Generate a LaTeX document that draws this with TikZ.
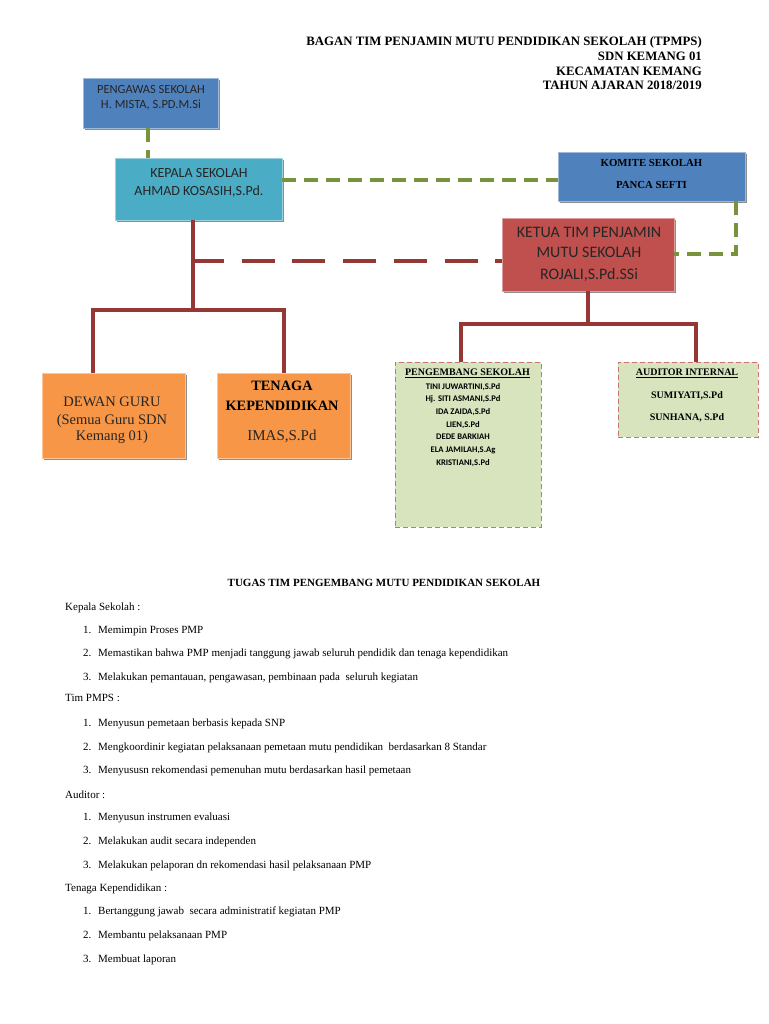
\documentclass[tikz,border=0pt]{standalone}
\usepackage{fontspec}
\setmainfont{Liberation Serif}
\newfontfamily\calib{Carlito}
\usetikzlibrary{shadows}
\definecolor{cblue}{HTML}{4F81BD}
\definecolor{cteal}{HTML}{4BACC6}
\definecolor{cred}{HTML}{C0504D}
\definecolor{corange}{HTML}{F79646}
\definecolor{cgreenbg}{HTML}{D7E4BD}
\definecolor{lred}{HTML}{953735}
\definecolor{lgreen}{HTML}{77933C}
\newcommand{\fsz}[1]{\fontsize{#1}{#1}\selectfont}
\begin{document}
\begin{tikzpicture}[x=1pt,y=-1pt,
  cbox/.style={draw=#1!55!white, fill=#1, line width=0.7pt, inner sep=0pt,
    drop shadow={shadow xshift=2pt,shadow yshift=-2pt,fill=black!60,opacity=0.75}},
  gbox/.style={draw=cred!80!white, fill=cgreenbg, line width=0.8pt, dash pattern=on 5pt off 3pt, inner sep=0pt},
  lbl/.style={inner sep=0pt, anchor=base},
  rline/.style={draw=lred, line width=4pt},
  gline/.style={draw=lgreen, line width=4pt, dash pattern=on 14pt off 8pt},
  body/.style={inner sep=0pt, anchor=base west, font=\fsz{11}},
  ttl/.style={inner sep=0pt, anchor=base east, font=\fsz{12.8}\bfseries},
]
\useasboundingbox[fill=white] (0,0) rectangle (768,1024);

% title
\node[ttl] (t1) at (702,45.7) {BAGAN TIM PENJAMIN MUTU PENDIDIKAN SEKOLAH (TPMPS)};
\node[ttl] (t2) at (702,61) {SDN KEMANG 01};
\node[ttl] (t3) at (702,75.7) {KECAMATAN KEMANG};
\node[ttl] (t4) at (702,90) {TAHUN AJARAN 2018/2019};

% boxes
\node[cbox=cblue, minimum width=135pt, minimum height=50pt] (pengawas) at (150.5,103) {};
\node[cbox=cteal, minimum width=167pt, minimum height=62pt] (kepala) at (198.5,189) {};
\node[cbox=cblue, minimum width=187pt, minimum height=49pt] (komite) at (651.5,176.5) {};
\node[cbox=cred, minimum width=172pt, minimum height=73pt] (ketua) at (588,254.5) {};
\node[cbox=corange, minimum width=143pt, minimum height=85pt] (dewan) at (113.5,415.5) {};
\node[cbox=corange, minimum width=133pt, minimum height=85pt] (tenaga) at (283.5,415.5) {};
\node[gbox, minimum width=146pt, minimum height=165pt] (pengembang) at (468,444.5) {};
\node[gbox, minimum width=140pt, minimum height=75pt] (auditor) at (688,399.5) {};

% box texts
\node[lbl, font=\calib\fsz{12.5}, text=black!85] (pw1) at (151,94) {PENGAWAS SEKOLAH};
\node[lbl, font=\calib\fsz{12.5}, text=black!85] (pw2) at (151,109) {H. MISTA, S.PD.M.Si};
\node[lbl, font=\calib\fsz{14}, text=black!85] (kp1) at (199,177.5) {KEPALA SEKOLAH};
\node[lbl, font=\calib\fsz{14}, text=black!85] (kp2) at (199,195.5) {AHMAD KOSASIH,S.Pd.};
\node[lbl, font=\fsz{10.8}\bfseries] (km1) at (651.5,166.6) {KOMITE SEKOLAH};
\node[lbl, font=\fsz{10.8}\bfseries] (km2) at (651.5,188.6) {PANCA SEFTI};
\node[lbl, font=\calib\fsz{16}, text=black!85] (kt1) at (589,237) {KETUA TIM PENJAMIN};
\node[lbl, font=\calib\fsz{16}, text=black!85] (kt2) at (589,258) {MUTU SEKOLAH};
\node[lbl, font=\calib\fsz{16}, text=black!85] (kt3) at (589,279) {ROJALI,S.Pd.SSi};
\node[lbl, font=\fsz{14.5}, text=black!85] (dg1) at (112,406.7) {DEWAN GURU};
\node[lbl, font=\fsz{14.5}, text=black!85] (dg2) at (112,424) {(Semua Guru SDN};
\node[lbl, font=\fsz{14.5}, text=black!85] (dg3) at (112,440.7) {Kemang 01)};
\node[lbl, font=\fsz{14.3}\bfseries] (tk1) at (282,390.7) {TENAGA};
\node[lbl, font=\fsz{14.3}\bfseries] (tk2) at (282,410) {KEPENDIDIKAN};
\node[lbl, font=\fsz{15}, text=black!85] (tk3) at (282,440) {IMAS,S.Pd};

\node[lbl, font=\fsz{10}\bfseries] (pgh) at (467.5,375.5) {\underline{PENGEMBANG SEKOLAH}};
\foreach \n [count=\i] in {TINI JUWARTINI{,}S.Pd, Hj. SITI ASMANI{,}S.Pd, IDA ZAIDA{,}S.Pd, LIEN{,}S.Pd, DEDE BARKIAH, ELA JAMILAH{,}S.Ag, KRISTIANI{,}S.Pd}
  \node[lbl, font=\calib\bfseries\fsz{8.6}] (pg\i) at (463,376.3+12.7*\i) {\n};
\node[lbl, font=\fsz{10}\bfseries] (auh) at (687,375.5) {\underline{AUDITOR INTERNAL}};
\node[lbl, font=\fsz{10}\bfseries] (au1) at (687,398.3) {SUMIYATI,S.Pd};
\node[lbl, font=\fsz{10}\bfseries] (au2) at (687,420.3) {SUNHANA, S.Pd};

% connectors
\coordinate (kj) at (193,310);
\coordinate (pj) at (588,324);
\draw[gline] (pengawas.south -| 148,0) -- (kepala.north -| 148,0);
\draw[gline] (kepala.east |- 0,180) -- (komite.west |- 0,180);
\draw[gline] (komite.south -| 736,0) |- (ketua.east |- 0,254);
\draw[rline] (kepala.south -| kj) -- (kj);
\draw[rline] (dewan.north -| 93,0) |- (tenaga.north |- kj) -- (tenaga.north);
\draw[rline, dash pattern=on 33pt off 17.7pt] (191,261) -- (ketua.west |- 0,261);
\draw[rline] (ketua.south -| pj) -- (pj);
\draw[rline] (pengembang.north -| 461,0) |- (696,324) -- (auditor.north -| 696,0);

% tasks
\node[inner sep=0pt, anchor=base, font=\fsz{11}\bfseries] (tg) at (384,586) {TUGAS TIM PENGEMBANG MUTU PENDIDIKAN SEKOLAH};
\node[body] (h1) at (65,610.5) {Kepala Sekolah :};
\node[body] (a1) at (83,633.5) {\makebox[15pt][l]{1.}Memimpin Proses PMP};
\node[body] (a2) at (83,656.5) {\makebox[15pt][l]{2.}Memastikan bahwa PMP menjadi tanggung jawab seluruh pendidik dan tenaga kependidikan};
\node[body] (a3) at (83,680.5) {\makebox[15pt][l]{3.}Melakukan pemantauan, pengawasan, pembinaan pada\ \ seluruh kegiatan};
\node[body] (h2) at (65,701.5) {Tim PMPS\ :};
\node[body] (b1) at (83,726.5) {\makebox[15pt][l]{1.}Menyusun pemetaan berbasis kepada SNP};
\node[body] (b2) at (83,750.5) {\makebox[15pt][l]{2.}Mengkoordinir kegiatan pelaksanaan pemetaan mutu pendidikan\ \ berdasarkan 8 Standar};
\node[body] (b3) at (83,773.5) {\makebox[15pt][l]{3.}Menyususn rekomendasi pemenuhan mutu berdasarkan hasil pemetaan};
\node[body] (h3) at (65,798.5) {Auditor :};
\node[body] (c1) at (83,820.5) {\makebox[15pt][l]{1.}Menyusun instrumen evaluasi};
\node[body] (c2) at (83,844.5) {\makebox[15pt][l]{2.}Melakukan audit secara independen};
\node[body] (c3) at (83,868.5) {\makebox[15pt][l]{3.}Melakukan pelaporan dn rekomendasi hasil pelaksanaan PMP};
\node[body] (h4) at (65,891.5) {Tenaga Kependidikan :};
\node[body] (d1) at (83,914.5) {\makebox[15pt][l]{1.}Bertanggung jawab\ \ secara administratif kegiatan PMP};
\node[body] (d2) at (83,938.5) {\makebox[15pt][l]{2.}Membantu pelaksanaan PMP};
\node[body] (d3) at (83,962.5) {\makebox[15pt][l]{3.}Membuat laporan};
\end{tikzpicture}
\end{document}
